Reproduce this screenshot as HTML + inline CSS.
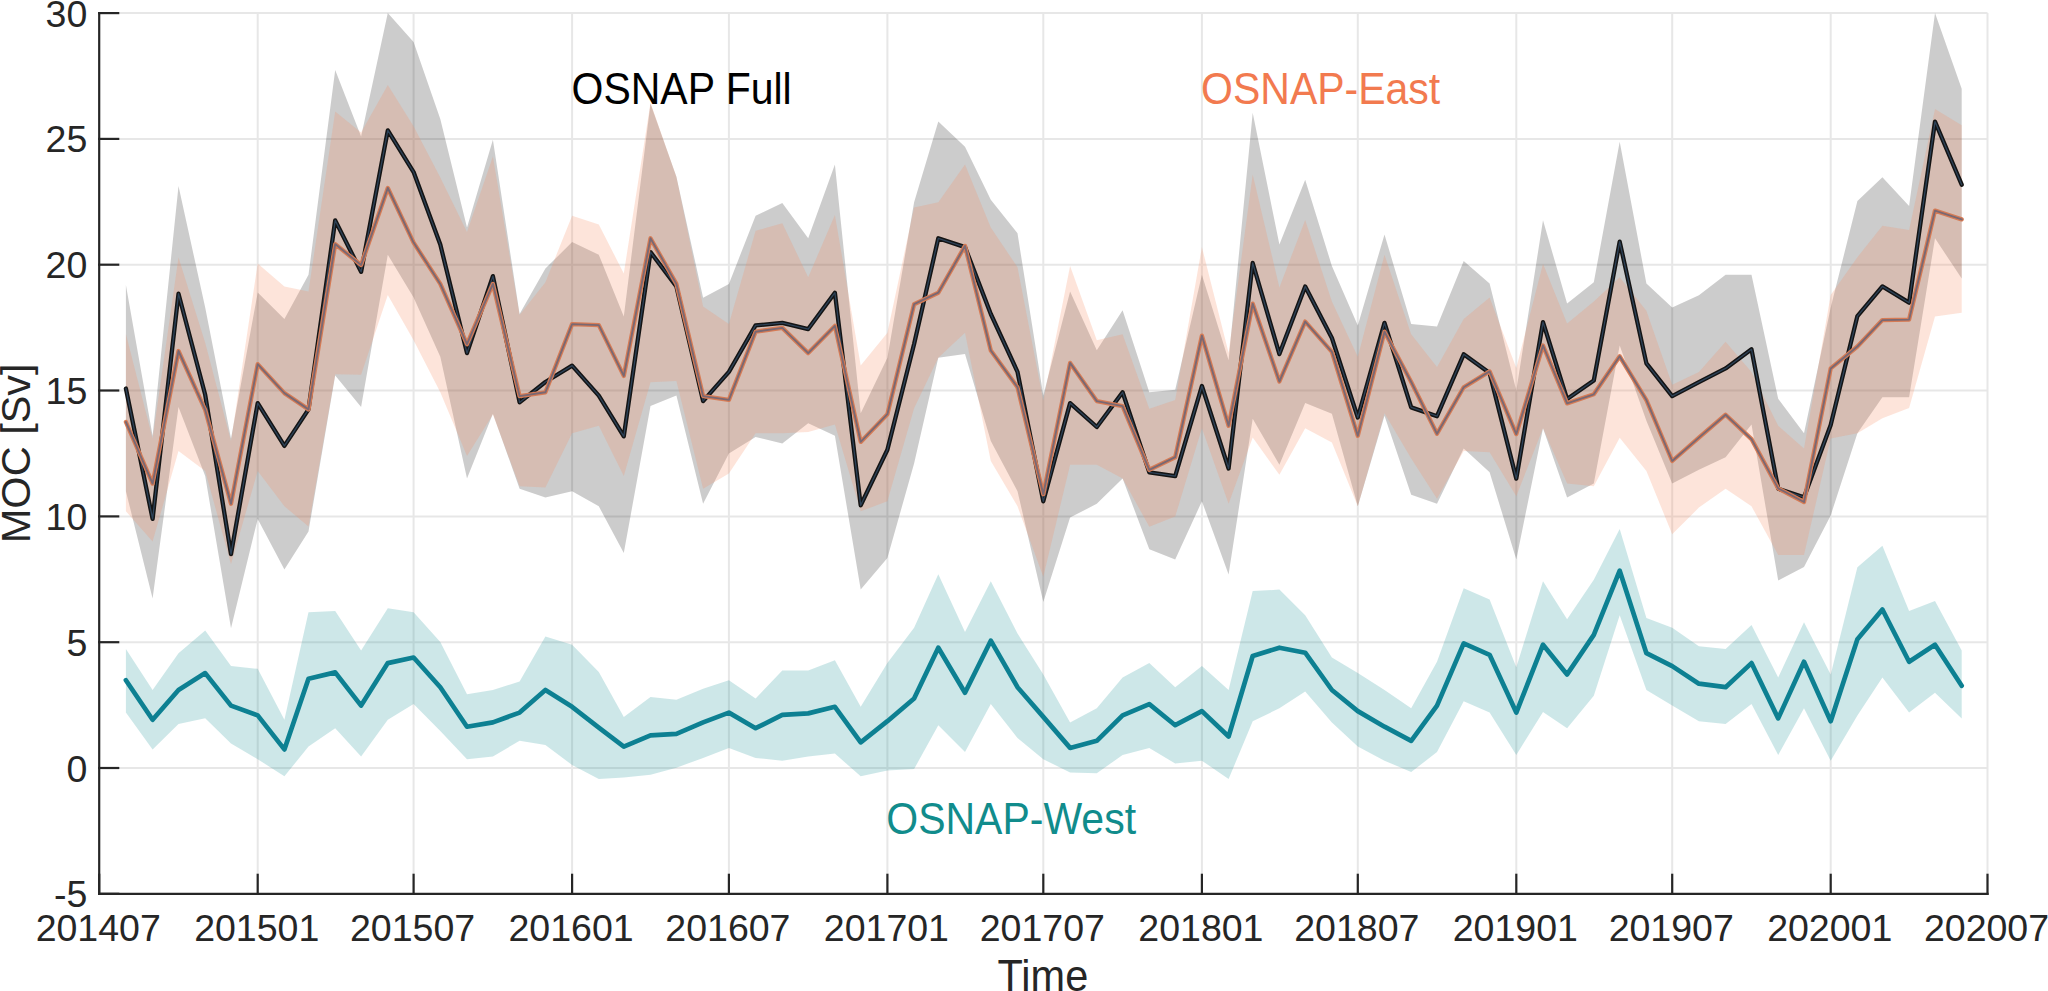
<!DOCTYPE html>
<html><head><meta charset="utf-8"><title>MOC</title>
<style>
html,body{margin:0;padding:0;background:#fff;}
body{width:2048px;height:991px;overflow:hidden;}
svg{display:block;}
text{font-family:"Liberation Sans",Arial,Helvetica,sans-serif;}
</style></head><body>
<svg width="2048" height="991" viewBox="0 0 2048 991">
<rect x="0" y="0" width="2048" height="991" fill="#fff"/>
<g stroke="#e7e7e7" stroke-width="2" fill="none"><line x1="257.7" y1="13.1" x2="257.7" y2="893.8"/><line x1="413.6" y1="13.1" x2="413.6" y2="893.8"/><line x1="572.1" y1="13.1" x2="572.1" y2="893.8"/><line x1="728.9" y1="13.1" x2="728.9" y2="893.8"/><line x1="887.4" y1="13.1" x2="887.4" y2="893.8"/><line x1="1043.3" y1="13.1" x2="1043.3" y2="893.8"/><line x1="1201.9" y1="13.1" x2="1201.9" y2="893.8"/><line x1="1357.8" y1="13.1" x2="1357.8" y2="893.8"/><line x1="1516.3" y1="13.1" x2="1516.3" y2="893.8"/><line x1="1672.2" y1="13.1" x2="1672.2" y2="893.8"/><line x1="1830.7" y1="13.1" x2="1830.7" y2="893.8"/><line x1="1987.5" y1="13.1" x2="1987.5" y2="893.8"/><line x1="99.2" y1="768.0" x2="1987.5" y2="768.0"/><line x1="99.2" y1="642.2" x2="1987.5" y2="642.2"/><line x1="99.2" y1="516.4" x2="1987.5" y2="516.4"/><line x1="99.2" y1="390.5" x2="1987.5" y2="390.5"/><line x1="99.2" y1="264.7" x2="1987.5" y2="264.7"/><line x1="99.2" y1="138.9" x2="1987.5" y2="138.9"/><line x1="99.2" y1="13.1" x2="1987.5" y2="13.1"/></g>
<polygon points="125.9,285.1 152.6,435.8 178.5,186.0 205.2,307.5 231.0,438.4 257.7,292.4 284.4,319.1 308.5,274.8 335.2,70.0 361.1,136.4 387.8,13.1 413.6,42.0 440.3,119.0 467.0,227.5 492.9,139.7 519.6,314.0 545.4,268.5 572.1,242.1 598.8,254.7 623.8,316.6 650.5,103.7 676.4,176.7 703.1,297.7 728.9,283.9 755.6,215.7 782.3,203.1 808.2,238.3 834.9,164.6 860.7,413.2 887.4,357.8 914.1,202.3 938.3,121.6 965.0,146.7 990.8,199.8 1017.5,233.3 1043.3,395.6 1070.1,291.4 1096.8,350.3 1122.6,310.3 1149.3,392.3 1175.2,389.8 1201.9,274.8 1228.6,360.3 1252.7,112.7 1279.4,244.6 1305.2,179.7 1331.9,266.0 1357.8,325.4 1384.5,234.5 1411.2,324.1 1437.0,326.6 1463.7,261.0 1489.6,283.6 1516.3,390.5 1543.0,220.2 1567.1,303.5 1593.8,282.3 1619.7,141.7 1646.4,283.6 1672.2,307.5 1698.9,295.2 1725.6,274.8 1751.5,274.8 1778.2,398.8 1804.0,433.3 1830.7,307.5 1857.4,201.1 1882.4,177.2 1909.1,206.1 1935.0,13.1 1961.7,88.8 1961.7,278.6 1935.0,238.3 1909.1,397.3 1882.4,397.3 1857.4,433.3 1830.7,515.4 1804.0,566.9 1778.2,580.5 1751.5,424.5 1725.6,457.2 1698.9,469.8 1672.2,483.6 1646.4,420.7 1619.7,345.5 1593.8,483.6 1567.1,497.5 1543.0,428.3 1516.3,559.4 1489.6,472.3 1463.7,448.4 1437.0,503.8 1411.2,494.7 1384.5,415.7 1357.8,506.3 1331.9,413.7 1305.2,403.1 1279.4,464.8 1252.7,418.7 1228.6,574.5 1201.9,501.3 1175.2,559.4 1149.3,549.3 1122.6,478.6 1096.8,503.8 1070.1,517.6 1043.3,601.9 1017.5,491.2 990.8,440.9 965.0,354.1 938.3,357.8 914.1,463.5 887.4,558.1 860.7,589.6 834.9,435.8 808.2,423.3 782.3,443.4 755.6,437.1 728.9,453.4 703.1,503.8 676.4,395.6 650.5,406.1 623.8,553.1 598.8,506.3 572.1,491.2 545.4,497.5 519.6,488.7 492.9,413.7 467.0,478.6 440.3,356.8 413.6,297.4 387.8,254.7 361.1,406.9 335.2,375.4 308.5,531.5 284.4,569.5 257.7,518.9 231.0,628.3 205.2,476.1 178.5,406.9 152.6,598.4 125.9,491.2" fill="#000" fill-opacity="0.2"/>
<polygon points="125.9,333.9 152.6,438.4 178.5,257.2 205.2,342.7 231.0,440.9 257.7,263.5 284.4,286.4 308.5,291.4 335.2,111.5 361.1,132.6 387.8,85.1 413.6,126.3 440.3,177.4 467.0,232.0 492.9,156.5 519.6,315.1 545.4,282.3 572.1,215.7 598.8,224.5 623.8,273.5 650.5,102.7 676.4,176.7 703.1,306.5 728.9,324.1 755.6,230.8 782.3,223.2 808.2,277.3 834.9,214.9 860.7,365.4 887.4,332.7 914.1,207.4 938.3,202.3 965.0,164.6 990.8,227.5 1017.5,267.2 1043.3,400.6 1070.1,266.0 1096.8,340.2 1122.6,334.2 1149.3,408.7 1175.2,399.9 1201.9,247.1 1228.6,352.8 1252.7,174.6 1279.4,287.4 1305.2,219.9 1331.9,301.5 1357.8,356.8 1384.5,254.7 1411.2,334.2 1437.0,366.9 1463.7,319.1 1489.6,297.4 1516.3,367.9 1543.0,263.7 1567.1,323.4 1593.8,301.5 1619.7,277.3 1646.4,310.8 1672.2,384.8 1698.9,371.9 1725.6,341.7 1751.5,371.9 1778.2,425.8 1804.0,448.4 1830.7,294.9 1857.4,257.2 1882.4,225.7 1909.1,230.0 1935.0,109.0 1961.7,125.3 1961.7,312.8 1935.0,316.6 1909.1,407.9 1882.4,418.2 1857.4,433.3 1830.7,438.4 1804.0,554.9 1778.2,554.9 1751.5,506.3 1725.6,488.7 1698.9,507.6 1672.2,534.2 1646.4,471.1 1619.7,437.8 1593.8,486.2 1567.1,483.6 1543.0,428.3 1516.3,496.2 1489.6,452.2 1463.7,450.9 1437.0,498.7 1411.2,458.5 1384.5,413.2 1357.8,506.3 1331.9,442.6 1305.2,428.3 1279.4,474.8 1252.7,437.6 1228.6,503.8 1201.9,428.3 1175.2,516.6 1149.3,526.7 1122.6,478.6 1096.8,464.8 1070.1,464.8 1043.3,576.7 1017.5,506.3 990.8,461.0 965.0,332.7 938.3,357.8 914.1,408.2 887.4,501.3 860.7,511.3 834.9,424.5 808.2,432.1 782.3,433.3 755.6,433.3 728.9,473.6 703.1,488.7 676.4,381.0 650.5,382.2 623.8,476.1 598.8,425.8 572.1,433.3 545.4,487.4 519.6,486.2 492.9,414.4 467.0,456.0 440.3,392.3 413.6,340.2 387.8,294.9 361.1,374.7 335.2,374.2 308.5,526.4 284.4,506.3 257.7,471.1 231.0,564.2 205.2,471.1 178.5,450.9 152.6,541.5 125.9,511.3" fill="rgb(247,142,101)" fill-opacity="0.24"/>
<polygon points="125.9,649.0 152.6,690.0 178.5,653.2 205.2,630.6 231.0,666.1 257.7,668.8 284.4,719.7 308.5,612.2 335.2,611.0 361.1,650.5 387.8,608.2 413.6,612.2 440.3,641.9 467.0,694.3 492.9,690.0 519.6,681.4 545.4,636.4 572.1,644.7 598.8,671.9 623.8,716.9 650.5,697.0 676.4,699.8 703.1,688.7 728.9,680.2 755.6,698.5 782.3,670.4 808.2,670.4 834.9,660.3 860.7,706.8 887.4,663.1 914.1,627.8 938.3,574.2 965.0,632.1 990.8,581.3 1017.5,633.6 1043.3,674.4 1070.1,722.4 1096.8,708.3 1122.6,677.4 1149.3,663.1 1175.2,687.2 1201.9,666.1 1228.6,690.0 1252.7,591.1 1279.4,589.6 1305.2,615.2 1331.9,657.5 1357.8,673.1 1384.5,690.0 1411.2,708.3 1437.0,661.8 1463.7,588.3 1489.6,599.6 1516.3,667.3 1543.0,581.3 1567.1,619.3 1593.8,579.8 1619.7,528.9 1646.4,618.0 1672.2,627.8 1698.9,646.2 1725.6,649.0 1751.5,625.1 1778.2,677.4 1804.0,622.3 1830.7,674.4 1857.4,567.2 1882.4,545.8 1909.1,611.0 1935.0,600.9 1961.7,650.5 1961.7,718.4 1935.0,692.7 1909.1,712.6 1882.4,677.4 1857.4,715.4 1830.7,760.7 1804.0,708.3 1778.2,754.9 1751.5,704.1 1725.6,724.0 1698.9,721.2 1672.2,705.6 1646.4,690.0 1619.7,615.2 1593.8,695.8 1567.1,728.2 1543.0,711.9 1516.3,754.9 1489.6,712.6 1463.7,701.3 1437.0,752.1 1411.2,772.0 1384.5,760.7 1357.8,746.6 1331.9,722.4 1305.2,691.5 1279.4,708.3 1252.7,721.2 1228.6,779.1 1201.9,760.7 1175.2,763.5 1149.3,747.9 1122.6,754.9 1096.8,773.3 1070.1,772.5 1043.3,759.2 1017.5,738.0 990.8,704.1 965.0,752.1 938.3,725.2 914.1,769.0 887.4,770.5 860.7,776.3 834.9,753.6 808.2,756.4 782.3,760.7 755.6,757.9 728.9,747.9 703.1,757.9 676.4,767.7 650.5,774.8 623.8,777.5 598.8,779.1 572.1,765.0 545.4,745.1 519.6,740.8 492.9,756.4 467.0,759.2 440.3,731.0 413.6,704.1 387.8,719.7 361.1,756.4 335.2,728.2 308.5,746.6 284.4,776.3 257.7,759.2 231.0,743.6 205.2,718.2 178.5,724.0 152.6,749.4 125.9,712.6" fill="rgb(17,140,148)" fill-opacity="0.21"/>
<polyline points="125.9,680.2 152.6,719.7 178.5,690.0 205.2,673.1 231.0,705.6 257.7,715.4 284.4,749.4 308.5,678.7 335.2,672.4 361.1,705.6 387.8,663.1 413.6,657.5 440.3,687.2 467.0,726.7 492.9,722.4 519.6,712.6 545.4,690.0 572.1,706.8 598.8,727.7 623.8,746.6 650.5,735.3 676.4,733.8 703.1,722.4 728.9,712.6 755.6,728.2 782.3,714.9 808.2,713.4 834.9,706.8 860.7,742.3 887.4,721.2 914.1,698.5 938.3,647.7 965.0,692.7 990.8,640.7 1017.5,687.2 1043.3,716.9 1070.1,747.9 1096.8,740.8 1122.6,715.4 1149.3,704.1 1175.2,725.2 1201.9,711.1 1228.6,736.5 1252.7,656.0 1279.4,647.7 1305.2,652.7 1331.9,690.0 1357.8,711.1 1384.5,726.7 1411.2,740.8 1437.0,705.6 1463.7,643.4 1489.6,654.8 1516.3,712.6 1543.0,644.7 1567.1,674.4 1593.8,634.9 1619.7,570.7 1646.4,653.2 1672.2,666.1 1698.9,683.7 1725.6,687.2 1751.5,663.1 1778.2,718.4 1804.0,661.8 1830.7,721.2 1857.4,639.2 1882.4,609.5 1909.1,661.8 1935.0,644.7 1961.7,685.7" stroke="#0d8092" stroke-width="4.7" stroke-linejoin="round" stroke-linecap="round" fill="none"/>
<polyline points="125.9,388.5 152.6,518.9 178.5,293.7 205.2,394.8 231.0,554.1 257.7,403.1 284.4,445.9 308.5,409.4 335.2,220.4 361.1,271.8 387.8,130.4 413.6,172.1 440.3,244.6 467.0,353.1 492.9,276.1 519.6,402.4 545.4,382.0 572.1,365.6 598.8,395.6 623.8,436.3 650.5,252.1 676.4,286.4 703.1,401.1 728.9,371.9 755.6,325.4 782.3,322.9 808.2,329.1 834.9,292.7 860.7,505.3 887.4,449.7 914.1,344.0 938.3,238.3 965.0,247.1 990.8,314.0 1017.5,371.9 1043.3,501.3 1070.1,403.1 1096.8,427.0 1122.6,392.3 1149.3,472.3 1175.2,476.1 1201.9,386.0 1228.6,468.5 1252.7,263.0 1279.4,354.1 1305.2,286.4 1331.9,338.0 1357.8,417.5 1384.5,322.9 1411.2,407.4 1437.0,416.2 1463.7,354.3 1489.6,372.9 1516.3,478.6 1543.0,322.1 1567.1,399.1 1593.8,380.5 1619.7,241.6 1646.4,363.4 1672.2,396.1 1698.9,382.2 1725.6,368.4 1751.5,349.3 1778.2,488.7 1804.0,497.2 1830.7,425.0 1857.4,316.1 1882.4,286.4 1909.1,302.7 1935.0,121.6 1961.7,184.7" stroke="#141414" stroke-width="4.3" stroke-linejoin="round" stroke-linecap="round" fill="none"/>
<polyline points="125.9,388.5 152.6,518.9 178.5,293.7 205.2,394.8 231.0,554.1 257.7,403.1 284.4,445.9 308.5,409.4 335.2,220.4 361.1,271.8 387.8,130.4 413.6,172.1 440.3,244.6 467.0,353.1 492.9,276.1 519.6,402.4 545.4,382.0 572.1,365.6 598.8,395.6 623.8,436.3 650.5,252.1 676.4,286.4 703.1,401.1 728.9,371.9 755.6,325.4 782.3,322.9 808.2,329.1 834.9,292.7 860.7,505.3 887.4,449.7 914.1,344.0 938.3,238.3 965.0,247.1 990.8,314.0 1017.5,371.9 1043.3,501.3 1070.1,403.1 1096.8,427.0 1122.6,392.3 1149.3,472.3 1175.2,476.1 1201.9,386.0 1228.6,468.5 1252.7,263.0 1279.4,354.1 1305.2,286.4 1331.9,338.0 1357.8,417.5 1384.5,322.9 1411.2,407.4 1437.0,416.2 1463.7,354.3 1489.6,372.9 1516.3,478.6 1543.0,322.1 1567.1,399.1 1593.8,380.5 1619.7,241.6 1646.4,363.4 1672.2,396.1 1698.9,382.2 1725.6,368.4 1751.5,349.3 1778.2,488.7 1804.0,497.2 1830.7,425.0 1857.4,316.1 1882.4,286.4 1909.1,302.7 1935.0,121.6 1961.7,184.7" stroke="#2d4258" stroke-width="1.3" stroke-linejoin="round" stroke-linecap="round" fill="none"/>
<polyline points="125.9,422.0 152.6,483.6 178.5,351.0 205.2,409.9 231.0,503.8 257.7,364.1 284.4,393.1 308.5,409.4 335.2,244.1 361.1,265.0 387.8,188.0 413.6,242.6 440.3,283.9 467.0,344.2 492.9,283.9 519.6,396.1 545.4,392.3 572.1,324.1 598.8,325.1 623.8,375.9 650.5,238.3 676.4,283.9 703.1,396.1 728.9,399.9 755.6,331.7 782.3,327.9 808.2,353.1 834.9,325.9 860.7,441.9 887.4,414.2 914.1,304.2 938.3,292.7 965.0,245.9 990.8,350.5 1017.5,387.3 1043.3,494.2 1070.1,362.9 1096.8,401.1 1122.6,406.1 1149.3,469.8 1175.2,457.2 1201.9,335.7 1228.6,425.8 1252.7,303.7 1279.4,381.5 1305.2,321.6 1331.9,351.8 1357.8,435.8 1384.5,331.7 1411.2,382.0 1437.0,433.8 1463.7,387.3 1489.6,371.4 1516.3,434.1 1543.0,345.5 1567.1,403.4 1593.8,394.3 1619.7,356.3 1646.4,400.1 1672.2,461.0 1698.9,437.6 1725.6,414.7 1751.5,439.1 1778.2,488.4 1804.0,502.0 1830.7,368.4 1857.4,346.5 1882.4,320.1 1909.1,319.6 1935.0,210.6 1961.7,219.4" stroke="#d67b55" stroke-width="4.3" stroke-linejoin="round" stroke-linecap="round" fill="none"/>
<polyline points="125.9,422.0 152.6,483.6 178.5,351.0 205.2,409.9 231.0,503.8 257.7,364.1 284.4,393.1 308.5,409.4 335.2,244.1 361.1,265.0 387.8,188.0 413.6,242.6 440.3,283.9 467.0,344.2 492.9,283.9 519.6,396.1 545.4,392.3 572.1,324.1 598.8,325.1 623.8,375.9 650.5,238.3 676.4,283.9 703.1,396.1 728.9,399.9 755.6,331.7 782.3,327.9 808.2,353.1 834.9,325.9 860.7,441.9 887.4,414.2 914.1,304.2 938.3,292.7 965.0,245.9 990.8,350.5 1017.5,387.3 1043.3,494.2 1070.1,362.9 1096.8,401.1 1122.6,406.1 1149.3,469.8 1175.2,457.2 1201.9,335.7 1228.6,425.8 1252.7,303.7 1279.4,381.5 1305.2,321.6 1331.9,351.8 1357.8,435.8 1384.5,331.7 1411.2,382.0 1437.0,433.8 1463.7,387.3 1489.6,371.4 1516.3,434.1 1543.0,345.5 1567.1,403.4 1593.8,394.3 1619.7,356.3 1646.4,400.1 1672.2,461.0 1698.9,437.6 1725.6,414.7 1751.5,439.1 1778.2,488.4 1804.0,502.0 1830.7,368.4 1857.4,346.5 1882.4,320.1 1909.1,319.6 1935.0,210.6 1961.7,219.4" stroke="#7a6872" stroke-width="1.9" stroke-linejoin="round" stroke-linecap="round" fill="none"/>
<g stroke="#262626" stroke-width="2.2" fill="none" stroke-linecap="square"><line x1="99.2" y1="13.1" x2="99.2" y2="893.8"/><line x1="99.2" y1="893.8" x2="1987.5" y2="893.8"/><line x1="99.2" y1="893.8" x2="118.2" y2="893.8"/><line x1="99.2" y1="768.0" x2="118.2" y2="768.0"/><line x1="99.2" y1="642.2" x2="118.2" y2="642.2"/><line x1="99.2" y1="516.4" x2="118.2" y2="516.4"/><line x1="99.2" y1="390.5" x2="118.2" y2="390.5"/><line x1="99.2" y1="264.7" x2="118.2" y2="264.7"/><line x1="99.2" y1="138.9" x2="118.2" y2="138.9"/><line x1="99.2" y1="13.1" x2="118.2" y2="13.1"/><line x1="99.2" y1="893.8" x2="99.2" y2="874.8"/><line x1="257.7" y1="893.8" x2="257.7" y2="874.8"/><line x1="413.6" y1="893.8" x2="413.6" y2="874.8"/><line x1="572.1" y1="893.8" x2="572.1" y2="874.8"/><line x1="728.9" y1="893.8" x2="728.9" y2="874.8"/><line x1="887.4" y1="893.8" x2="887.4" y2="874.8"/><line x1="1043.3" y1="893.8" x2="1043.3" y2="874.8"/><line x1="1201.9" y1="893.8" x2="1201.9" y2="874.8"/><line x1="1357.8" y1="893.8" x2="1357.8" y2="874.8"/><line x1="1516.3" y1="893.8" x2="1516.3" y2="874.8"/><line x1="1672.2" y1="893.8" x2="1672.2" y2="874.8"/><line x1="1830.7" y1="893.8" x2="1830.7" y2="874.8"/><line x1="1987.5" y1="893.8" x2="1987.5" y2="874.8"/></g>
<g fill="#262626" font-size="37.5"><text x="87.3" y="894.3" text-anchor="end" dominant-baseline="central">-5</text><text x="87.3" y="768.5" text-anchor="end" dominant-baseline="central">0</text><text x="87.3" y="642.7" text-anchor="end" dominant-baseline="central">5</text><text x="87.3" y="516.9" text-anchor="end" dominant-baseline="central">10</text><text x="87.3" y="391.0" text-anchor="end" dominant-baseline="central">15</text><text x="87.3" y="265.2" text-anchor="end" dominant-baseline="central">20</text><text x="87.3" y="139.4" text-anchor="end" dominant-baseline="central">25</text><text x="87.3" y="13.6" text-anchor="end" dominant-baseline="central">30</text><text x="98.2" y="941" text-anchor="middle">201407</text><text x="256.7" y="941" text-anchor="middle">201501</text><text x="412.6" y="941" text-anchor="middle">201507</text><text x="571.1" y="941" text-anchor="middle">201601</text><text x="727.9" y="941" text-anchor="middle">201607</text><text x="886.4" y="941" text-anchor="middle">201701</text><text x="1042.3" y="941" text-anchor="middle">201707</text><text x="1200.9" y="941" text-anchor="middle">201801</text><text x="1356.8" y="941" text-anchor="middle">201807</text><text x="1515.3" y="941" text-anchor="middle">201901</text><text x="1671.2" y="941" text-anchor="middle">201907</text><text x="1829.7" y="941" text-anchor="middle">202001</text><text x="1986.5" y="941" text-anchor="middle">202007</text></g>
<text transform="translate(1042.9,991) scale(1,1.05)" text-anchor="middle" fill="#262626" font-size="41.5">Time</text>
<text transform="translate(30,453.3) rotate(-90)" text-anchor="middle" fill="#262626" font-size="41.5">MOC [Sv]</text>
<text transform="translate(571.5,104) scale(0.995,1.06)" fill="#000" font-size="41.2">OSNAP Full</text>
<text transform="translate(1201.1,104) scale(0.995,1.06)" fill="#f27a4f" font-size="41.2">OSNAP-East</text>
<text transform="translate(886.3,834) scale(0.995,1.06)" fill="#118c8c" font-size="41.2">OSNAP-West</text>
</svg>
</body></html>
